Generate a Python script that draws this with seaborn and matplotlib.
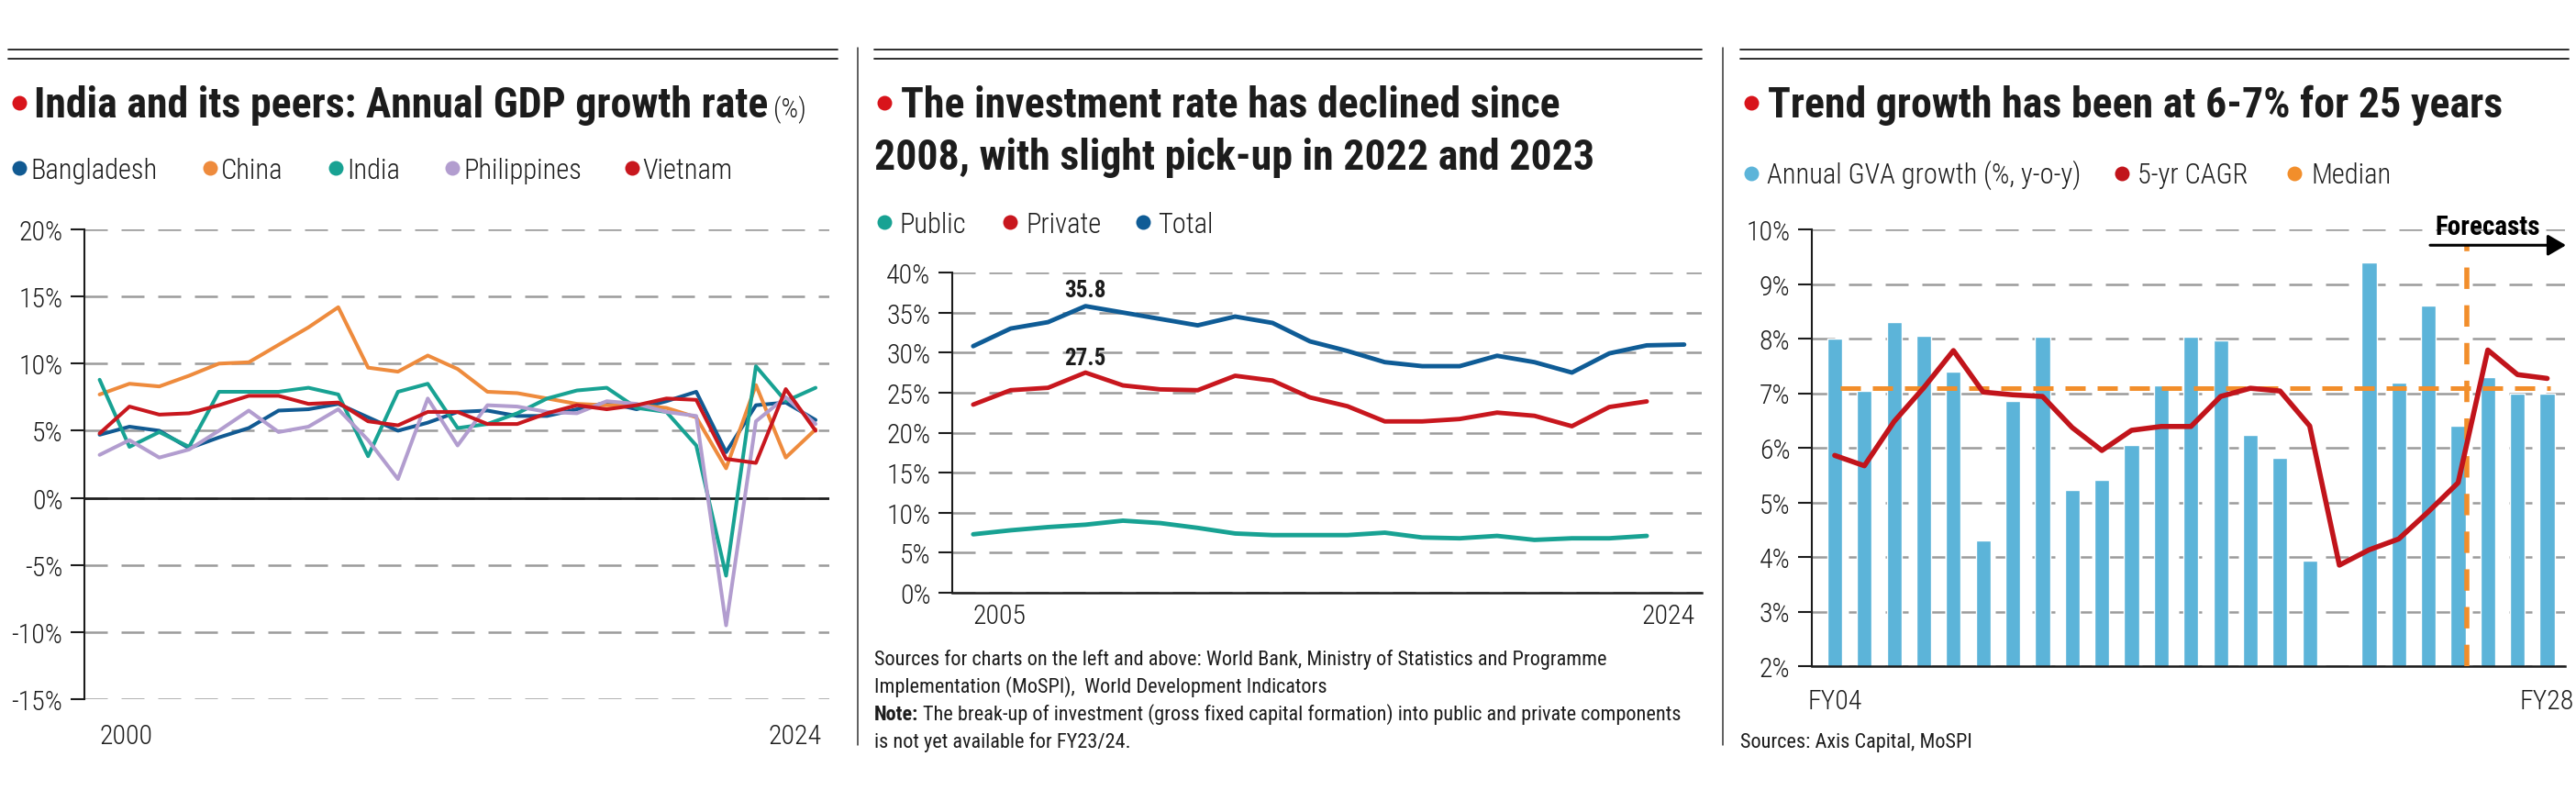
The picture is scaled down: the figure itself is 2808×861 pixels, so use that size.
import numpy as np
import pandas as pd
import matplotlib
matplotlib.use("Agg")
import matplotlib.pyplot as plt
import seaborn as sns
from matplotlib.lines import Line2D
from matplotlib.patches import FancyArrowPatch
from matplotlib import font_manager as fm

# ---------------- data ----------------
countries = ["Bangladesh", "China", "India", "Philippines", "Vietnam"]
gdp_years = [2000, 2001, 2002, 2003, 2004, 2005, 2006, 2007, 2008, 2009, 2010, 2011, 2012,
             2013, 2014, 2015, 2016, 2017, 2018, 2019, 2020, 2021, 2022, 2023, 2024]
bangladesh = [4.7, 5.3, 5.0, 3.7, 4.5, 5.2, 6.5, 6.6, 7.0, 6.0, 5.0, 5.6, 6.4, 6.5, 6.1, 6.1,
              6.6, 7.1, 6.6, 7.2, 7.9, 3.4, 6.9, 7.1, 5.8]
china = [7.7, 8.5, 8.3, 9.1, 10.0, 10.1, 11.4, 12.7, 14.2, 9.7, 9.4, 10.6, 9.6, 7.9, 7.8, 7.4,
         7.0, 6.9, 6.9, 6.7, 6.0, 2.2, 8.4, 3.0, 5.1]
india = [8.8, 3.8, 4.9, 3.8, 7.9, 7.9, 7.9, 8.2, 7.7, 3.1, 7.9, 8.5, 5.2, 5.5, 6.3, 7.4,
         8.0, 8.2, 6.7, 6.4, 3.9, -5.8, 9.8, 7.2, 8.2]
philippines = [3.2, 4.3, 3.0, 3.6, 5.0, 6.5, 4.9, 5.3, 6.6, 4.3, 1.4, 7.4, 3.9, 6.9, 6.8, 6.4,
               6.3, 7.2, 7.0, 6.4, 6.1, -9.5, 5.7, 7.5, 5.5]
vietnam = [4.8, 6.8, 6.2, 6.3, 6.9, 7.6, 7.6, 7.0, 7.1, 5.7, 5.4, 6.4, 6.4, 5.5, 5.5, 6.3,
           6.9, 6.6, 6.9, 7.4, 7.3, 2.9, 2.6, 8.1, 5.0]
gdp_ticks = [-15, -10, -5, 0, 5, 10, 15, 20]
gdp_tick_labels = ["-15%", "-10%", "-5%", "0%", "5%", "10%", "15%", "20%"]
gdp_x_labels = ["2000", "2024"]

inv_series = ["Public", "Private", "Total"]
inv_years = [2005, 2006, 2007, 2008, 2009, 2010, 2011, 2012, 2013, 2014, 2015, 2016, 2017,
             2018, 2019, 2020, 2021, 2022, 2023, 2024]
inv_total = [30.8, 33.0, 33.8, 35.8, 35.0, 34.2, 33.4, 34.5, 33.7, 31.4, 30.2, 28.8, 28.3,
             28.3, 29.6, 28.8, 27.5, 29.9, 30.9, 31.0]
inv_private = [23.5, 25.3, 25.6, 27.5, 25.9, 25.4, 25.3, 27.1, 26.5, 24.4, 23.3, 21.4, 21.4,
               21.7, 22.5, 22.1, 20.8, 23.2, 23.9, np.nan]
inv_public = [7.3, 7.8, 8.2, 8.5, 9.0, 8.7, 8.1, 7.4, 7.2, 7.2, 7.2, 7.5, 6.9, 6.8, 7.1,
              6.6, 6.8, 6.8, 7.1, np.nan]
inv_ticks = [0, 5, 10, 15, 20, 25, 30, 35, 40]
inv_tick_labels = ["0%", "5%", "10%", "15%", "20%", "25%", "30%", "35%", "40%"]
inv_x_labels = ["2005", "2024"]
inv_peak_year = 2008
inv_peak_total = 35.8
inv_peak_private = 27.5

fy_labels = ["FY04", "FY05", "FY06", "FY07", "FY08", "FY09", "FY10", "FY11", "FY12", "FY13",
             "FY14", "FY15", "FY16", "FY17", "FY18", "FY19", "FY20", "FY21", "FY22", "FY23",
             "FY24", "FY25", "FY26", "FY27", "FY28"]
gva_growth = [8.0, 7.05, 8.3, 8.05, 7.4, 4.3, 6.85, 8.03, 5.22, 5.41, 6.05, 7.15, 8.03, 7.97,
              6.23, 5.81, 3.93, -4.2, 9.4, 7.2, 8.6, 6.4, 7.3, 7.0, 7.0]
cagr_5yr = [5.86, 5.67, 6.48, 7.1, 7.78, 7.02, 6.97, 6.94, 6.37, 5.95, 6.32, 6.39, 6.39, 6.94,
            7.09, 7.04, 6.40, 3.85, 4.13, 4.33, 4.83, 5.36, 7.79, 7.34, 7.27]
gva_median = 7.1
gva_ticks = [2, 3, 4, 5, 6, 7, 8, 9, 10]
gva_tick_labels = ["2%", "3%", "4%", "5%", "6%", "7%", "8%", "9%", "10%"]
gva_x_labels = ["FY04", "FY28"]

# ---------------- fonts / style ----------------
sns.set_theme(style="white")
names = {f.name for f in fm.fontManager.ttflist}
FAMILY = "Roboto Condensed" if "Roboto Condensed" in names else "Liberation Sans"
plt.rcParams["font.family"] = [FAMILY, "DejaVu Sans"]
plt.rcParams["font.weight"] = "light"

W, H = 2808, 862
DARK = "#1c1c1c"
GRID = "#9b9b9b"
RED_DOT = "#d8141b"
c_bang, c_china, c_india, c_phil, c_viet = "#115a92", "#ee8b3d", "#18a293", "#b29dcf", "#c8171e"
c_public, c_private, c_total = "#18a293", "#c8171e", "#0f5c96"
c_bar, c_cagr, c_median = "#5cb4d9", "#c1141b", "#f28e2b"

fig = plt.figure(figsize=(W / 100, H / 100), dpi=100)
fig.patch.set_facecolor("white")


def fx(x):
    return x / W


def fy(y):
    return 1 - y / H


def ftext(x, y, s, **kw):
    kw.setdefault("color", DARK)
    return fig.text(fx(x), fy(y), s, va="baseline", ha="left", **kw)


def dot(x, y, color, size=11.5):
    fig.add_artist(Line2D([fx(x)], [fy(y)], marker="o", markersize=size, color=color,
                          markeredgewidth=0, transform=fig.transFigure))


def hrule(x0, x1, y, lw=1.3):
    fig.add_artist(Line2D([fx(x0), fx(x1)], [fy(y), fy(y)], color=DARK, lw=lw,
                          transform=fig.transFigure))


def vrule(x, y0, y1, lw=1.1):
    fig.add_artist(Line2D([fx(x), fx(x)], [fy(y0), fy(y1)], color="#333333", lw=lw,
                          transform=fig.transFigure))


def style_axis(ax, ticks, labels, ylim):
    ax.set_facecolor("white")
    ax.set_ylim(*ylim)
    ax.set_yticks(ticks)
    ax.set_yticklabels(labels)
    ax.yaxis.grid(True, color=GRID, linestyle=(0, (10, 6)), linewidth=1.8)
    ax.xaxis.grid(False)
    ax.set_axisbelow(True)
    for s in ["top", "right"]:
        ax.spines[s].set_visible(False)
    ax.spines["left"].set_color(DARK)
    ax.spines["left"].set_linewidth(1.5)
    ax.spines["bottom"].set_color(DARK)
    ax.spines["bottom"].set_linewidth(1.8)
    ax.tick_params(axis="y", length=11, width=1.5, color=DARK, direction="out", pad=6,
                   labelsize=21, labelcolor=DARK, left=True)
    ax.tick_params(axis="x", length=0, labelsize=21, labelcolor=DARK, bottom=True)
    ax.set_xlabel("")
    ax.set_ylabel("")


# rules and dividers
for x0, x1 in [(9, 913), (953, 1855), (1897, 2800)]:
    hrule(x0, x1, 55)
    hrule(x0, x1, 65)
vrule(935, 53, 813)
vrule(1878, 53, 813)

# ---------------- panel 1 ----------------
ax1 = fig.add_axes([fx(92), fy(763), (904 - 92) / W, (763 - 251) / H])
df1 = pd.DataFrame({
    "year": gdp_years * 5,
    "growth": bangladesh + china + india + philippines + vietnam,
    "country": sum([[c] * len(gdp_years) for c in countries], []),
})
sns.lineplot(data=df1, x="year", y="growth", hue="country", hue_order=countries,
             palette=[c_bang, c_china, c_india, c_phil, c_viet], linewidth=2.9,
             legend=False, ax=ax1, zorder=3)
style_axis(ax1, gdp_ticks, gdp_tick_labels, (-15, 20))
ax1.spines["bottom"].set_visible(False)
ax1.axhline(0, color=DARK, lw=1.9, zorder=2)
ax1.set_xlim(1999.49, 2024.46)
ax1.set_xticks([2000, 2024.2])
ax1.set_xticklabels(gdp_x_labels)
ax1.tick_params(axis="x", pad=19)
for lbl, ha in zip(ax1.get_xticklabels(), ["left", "right"]):
    lbl.set_ha(ha)

# ---------------- panel 2 ----------------
ax2 = fig.add_axes([fx(1038), fy(647), (1855 - 1038) / W, (647 - 298) / H])
df2 = pd.DataFrame({
    "year": inv_years * 3,
    "rate": inv_public + inv_private + inv_total,
    "kind": sum([[k] * len(inv_years) for k in inv_series], []),
}).dropna()
sns.lineplot(data=df2, x="year", y="rate", hue="kind", hue_order=inv_series,
             palette=[c_public, c_private, c_total], linewidth=3.5, legend=False, ax=ax2,
             zorder=3)
style_axis(ax2, inv_ticks, inv_tick_labels, (0, 40))
ax2.set_xlim(2004.44, 2024.47)
ax2.set_xticks([2005, 2024.3])
ax2.set_xticklabels(inv_x_labels)
ax2.tick_params(axis="x", pad=8)
for lbl, ha in zip(ax2.get_xticklabels(), ["left", "right"]):
    lbl.set_ha(ha)
ann1 = ax2.annotate(f"{inv_peak_total}", xy=(inv_peak_year, inv_peak_total), xytext=(0, 8),
                    textcoords="offset points", ha="center", va="baseline",
                    fontsize=18, fontweight="bold", color=DARK)
ann2 = ax2.annotate(f"{inv_peak_private}", xy=(inv_peak_year, inv_peak_private), xytext=(0, 6.5),
                    textcoords="offset points", ha="center", va="baseline",
                    fontsize=18, fontweight="bold", color=DARK)

# ---------------- panel 3 ----------------
ax3 = fig.add_axes([fx(1975), fy(727), (2796 - 1975) / W, (727 - 251) / H])
sns.barplot(x=fy_labels, y=gva_growth, color=c_bar, saturation=1, width=0.5, ax=ax3,
            zorder=2)
pos = np.arange(len(fy_labels))
ax3.hlines(gva_median, 0.2, 24.1, color=c_median, lw=3.6, linestyles=[(0, (4.4, 2.6))],
           zorder=4)
ax3.vlines(21.3, 2, 9.73, color=c_median, lw=4.0, linestyles=[(0, (4.2, 3.2))], zorder=4)
sns.lineplot(x=pos, y=cagr_5yr, color=c_cagr, linewidth=4.0, ax=ax3, zorder=5)
style_axis(ax3, gva_ticks, gva_tick_labels, (2, 10))
ax3.set_xlim(-0.77, 24.6)
ax3.set_xticks([0, 24])
ax3.set_xticklabels(gva_x_labels)
ax3.tick_params(axis="x", pad=17)
arrow = FancyArrowPatch((19.97, 9.71), (24.72, 9.71), arrowstyle="-|>,head_length=12,head_width=7",
                        mutation_scale=1, color="black", lw=2.2, clip_on=False, zorder=6)
ax3.add_patch(arrow)
fc = ax3.text(21.98, 9.92, "Forecasts", ha="center", va="baseline", fontsize=21,
              fontweight="bold", color="black", clip_on=False, zorder=6)

# ---------------- titles ----------------
for x in [21, 964, 1909]:
    dot(x, 113, RED_DOT, 11.5)
t1 = ftext(37, 128, "India and its peers: Annual GDP growth rate", fontsize=33, fontweight="bold")
t2a = ftext(982, 128, "The investment rate has declined since", fontsize=33, fontweight="bold")
t2b = ftext(953, 185, "2008, with slight pick-up in 2022 and 2023", fontsize=33, fontweight="bold")
t3 = ftext(1927, 128, "Trend growth has been at 6-7% for 25 years", fontsize=33, fontweight="bold")

# ---------------- legends ----------------
leg_items = [
    (countries[0], c_bang, 21, 33, 184, 195, 142),
    (countries[1], c_china, 229, 241, 184, 195, 69),
    (countries[2], c_india, 366, 378, 184, 195, 59),
    (countries[3], c_phil, 493, 505, 184, 195, 129),
    (countries[4], c_viet, 689, 700, 184, 195, 101),
    (inv_series[0], c_public, 964, 980, 243, 254, 74),
    (inv_series[1], c_private, 1101, 1118, 243, 254, 81),
    (inv_series[2], c_total, 1246, 1262, 243, 254, 58),
    ("Annual GVA growth (%, y-o-y)", c_bar, 1909, 1926, 190, 200, 341),
    ("5-yr CAGR", c_cagr, 2313, 2330, 190, 200, 122),
    ("Median", c_median, 2501, 2519, 190, 200, 87),
]
leg_texts = []
for lab, col, dx, tx, dy, by, tw in leg_items:
    dot(dx, dy, col, 11.5)
    leg_texts.append((ftext(tx, by, lab, fontsize=22), tw))

# ---------------- notes ----------------
n1 = ftext(953, 725, "Sources for charts on the left and above: World Bank, Ministry of Statistics and Programme",
           fontsize=17, fontweight="normal")
n2 = ftext(953, 755, "Implementation (MoSPI),  World Development Indicators", fontsize=17,
           fontweight="normal")
n3b = ftext(953, 785, "Note:", fontsize=17, fontweight="bold")
n3 = ftext(1000, 785, "The break-up of investment (gross fixed capital formation) into public and private components",
           fontsize=17, fontweight="normal")
n4 = ftext(953, 815, "is not yet available for FY23/24.", fontsize=17, fontweight="normal")
s3 = ftext(1897, 815, "Sources: Axis Capital, MoSPI", fontsize=17, fontweight="normal")

# ---------------- fit text widths ----------------
fig.canvas.draw()
R = fig.canvas.get_renderer()


def width(t):
    return t.get_window_extent(R).width


def fit_group(pairs, max_size):
    sizes = [t.get_fontsize() * tw / width(t) for t, tw in pairs]
    s = min(float(np.median(sizes)), max_size)
    for t, _ in pairs:
        t.set_fontsize(s)
    return s


title_size = fit_group([(t1, 819), (t2a, 736), (t2b, 812), (t3, 805)], 33)
leg_size = fit_group(leg_texts, 22)
note_size = fit_group([(n1, 798), (n2, 501), (n4, 273), (s3, 252)], 17)
n3b.set_fontsize(note_size)
n3.set_fontsize(note_size)
fit_group([(ann1, 58), (ann2, 58)], 18)
fit_group([(fc, 131)], 21)

fig.canvas.draw()
lab20 = [l for l in ax1.get_yticklabels() if l.get_text() == "20%"][0]
tick_size = min(21.5, lab20.get_fontsize() * 51 / width(lab20))
for ax in (ax1, ax2, ax3):
    ax.tick_params(labelsize=tick_size)

fig.canvas.draw()
bb = n3b.get_window_extent(R)
n3.set_x(fx(bb.x1 + 5))
bt = t1.get_window_extent(R)
ftext(bt.x1 + 6, 128, "(%)", fontsize=leg_size * 0.95)

fig.savefig("out.png", dpi=100, facecolor="white")
